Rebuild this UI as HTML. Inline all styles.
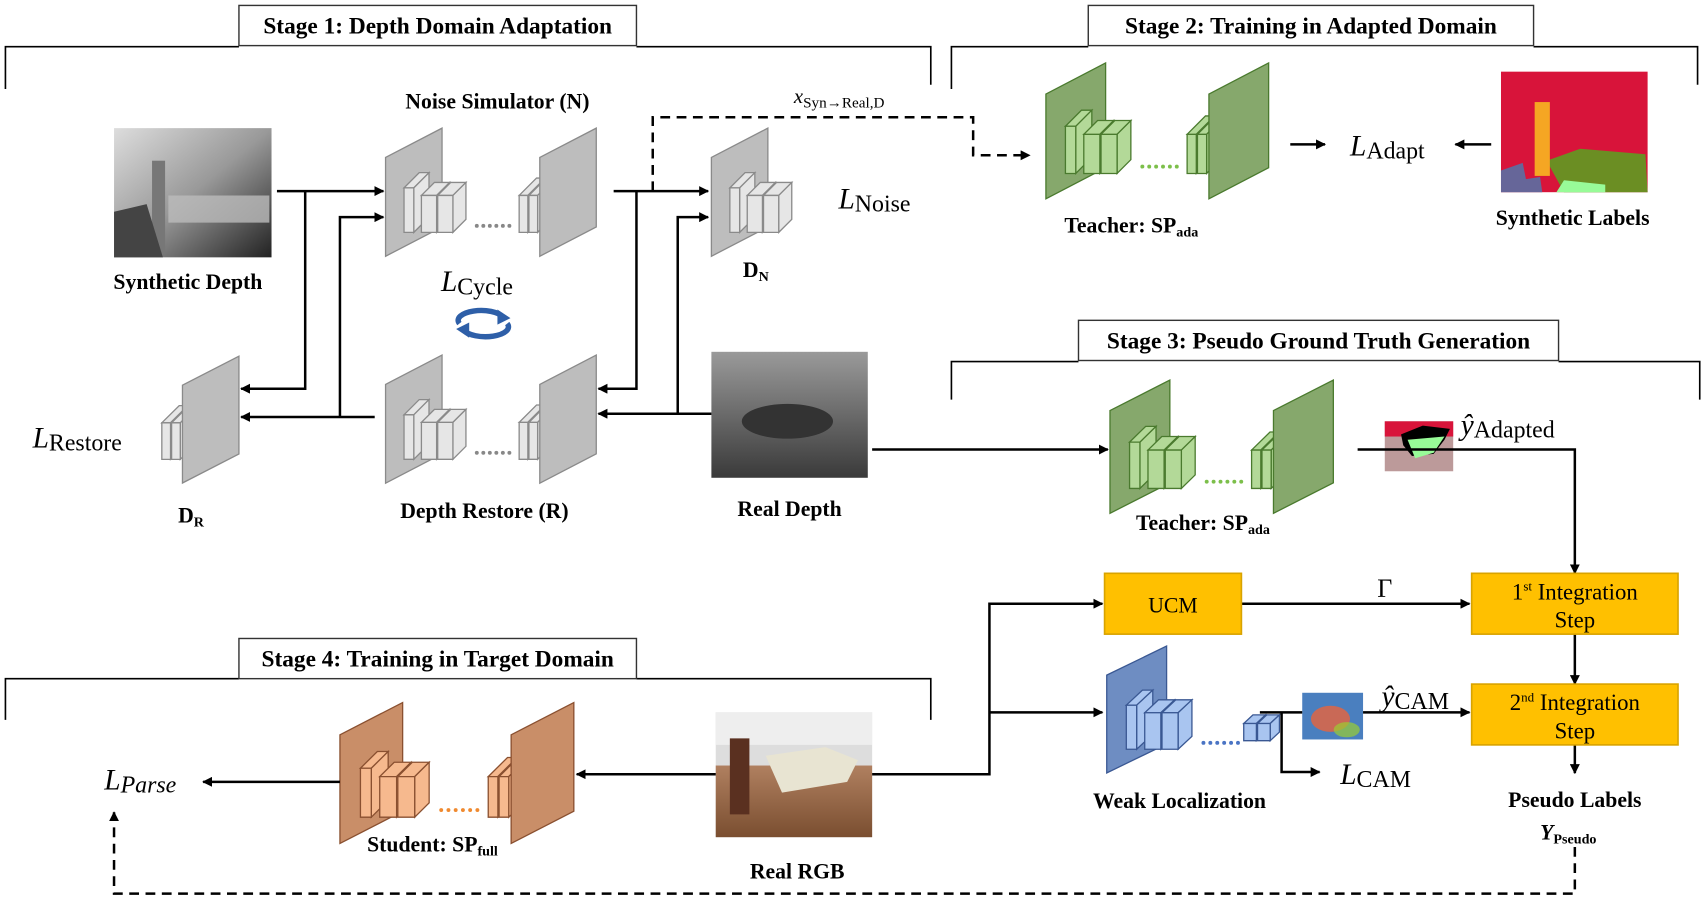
<!DOCTYPE html>
<html><head><meta charset="utf-8">
<style>
html,body{margin:0;padding:0;background:#fff;}
svg{display:block;}
text{font-family:"Liberation Serif",serif;}
.b{font-weight:bold;font-size:20px;}
.st{font-weight:bold;font-size:21.5px;}
.m{font-size:27px;}
</style></head>
<body>
<svg id="s" width="1703" height="898" viewBox="0 0 1568 827" preserveAspectRatio="none" xmlns="http://www.w3.org/2000/svg">
<defs>
<marker id="ah" viewBox="0 0 10 10" refX="9" refY="5" markerWidth="4" markerHeight="4" orient="auto"><path d="M0,0 L10,5 L0,10 z" fill="#000"/></marker>
<linearGradient id="sd" x1="0" y1="0" x2="1" y2="1"><stop offset="0" stop-color="#ddd"/><stop offset="0.5" stop-color="#999"/><stop offset="1" stop-color="#222"/></linearGradient>
<linearGradient id="rd" x1="0" y1="0" x2="0" y2="1"><stop offset="0" stop-color="#9a9a9a"/><stop offset="1" stop-color="#3a3a3a"/></linearGradient>
<linearGradient id="floor" x1="0" y1="0" x2="0" y2="1"><stop offset="0" stop-color="#b08060"/><stop offset="1" stop-color="#7a4e30"/></linearGradient>
</defs>
<g fill="none" stroke="#000" stroke-width="1.5">
<path d="M5,82 V43 H220 M586,43 H857 V78"/>
<path d="M876,82 V43 H1002 M1412,43 H1563 V78"/>
<path d="M876,368 V333 H993 M1435,333 H1565 V368"/>
<path d="M5,663 V625 H220 M586,625 H857 V663"/>
</g>
<g fill="#fff" stroke="#333" stroke-width="1.3">
<rect x="220" y="5" width="366" height="37"/>
<rect x="1002" y="5" width="410" height="37"/>
<rect x="993" y="295" width="442" height="37"/>
<rect x="220" y="588" width="366" height="37"/>
</g>
<text class="st" x="403" y="31" text-anchor="middle">Stage 1: Depth Domain Adaptation</text>
<text class="st" x="1207" y="31" text-anchor="middle">Stage 2: Training in Adapted Domain</text>
<text class="st" x="1214" y="321" text-anchor="middle">Stage 3: Pseudo Ground Truth Generation</text>
<text class="st" x="403" y="614" text-anchor="middle">Stage 4: Training in Target Domain</text>

<rect x="105" y="118" width="145" height="119" fill="url(#sd)"/>
<rect x="140" y="148" width="12" height="85" fill="#777"/>
<path d="M155,180 H248 V205 H155 z" fill="#bbb" opacity="0.8"/>
<path d="M105,195 L135,188 L150,237 H105z" fill="#444"/>
<rect x="655" y="324" width="144" height="116" fill="url(#rd)"/>
<ellipse cx="725" cy="388" rx="42" ry="16" fill="#333"/>
<rect x="659" y="656" width="144" height="115" fill="#ddd"/>
<rect x="659" y="656" width="144" height="30" fill="#eee"/>
<rect x="659" y="705" width="144" height="66" fill="url(#floor)"/>
<path d="M705,696 L760,688 L790,700 L780,720 L720,730z" fill="#e8e4d2"/>
<rect x="672" y="680" width="18" height="70" fill="#5a3020"/>
<rect x="1382" y="66" width="135" height="111" fill="#d8143a"/>
<path d="M1424,148 L1455,137 L1515,142 L1517,177 L1440,177z" fill="#6b8e23"/>
<rect x="1413" y="94" width="14" height="68" fill="#f5a623"/>
<path d="M1382,157 L1402,150 L1405,165 L1418,163 L1420,177 H1382z" fill="#666699"/>
<path d="M1440,166 L1478,170 L1478,177 H1433z" fill="#98fb98"/>
<rect x="1275" y="388" width="63" height="46" fill="#bc9a9a"/>
<rect x="1275" y="388" width="63" height="14" fill="#d8143a"/>
<path d="M1290,400 L1310,392 L1335,395 L1330,405 L1320,418 L1300,420 L1292,410z" fill="#000"/>
<path d="M1296,405 L1330,402 L1320,417 L1303,422z" fill="#98fb98"/>
<rect x="1199" y="638" width="56" height="43" fill="#4a7fbf"/>
<ellipse cx="1225" cy="662" rx="18" ry="12" fill="#e8643c" opacity="0.8"/>
<ellipse cx="1240" cy="672" rx="12" ry="7" fill="#9acd32" opacity="0.7"/>

<g id="nets"></g>

<g fill="none" stroke="#000" stroke-width="2.3">
<path d="M255,176 H353" marker-end="url(#ah)"/>
<path d="M281,176 V358 H222" marker-end="url(#ah)"/>
<path d="M345,384 H222" marker-end="url(#ah)"/>
<path d="M313,384 V200 H353" marker-end="url(#ah)"/>
<path d="M565,176 H652" marker-end="url(#ah)"/>
<path d="M586,176 V358 H551" marker-end="url(#ah)"/>
<path d="M655,381 H551" marker-end="url(#ah)"/>
<path d="M624,381 V200 H652" marker-end="url(#ah)"/>
<path d="M601,176 V108 H896 V143 H948" stroke-dasharray="9,6" marker-end="url(#ah)"/>
<path d="M1188,133 H1220" marker-end="url(#ah)"/>
<path d="M1373,133 H1340" marker-end="url(#ah)"/>
<path d="M803,414 H1020" marker-end="url(#ah)"/>
<path d="M1250,414 H1450 V528" marker-end="url(#ah)"/>
<path d="M1143,556 H1353" marker-end="url(#ah)"/>
<path d="M1450,584 V630" marker-end="url(#ah)"/>
<path d="M1450,686 V712" marker-end="url(#ah)"/>
<path d="M803,713 H911 V556 H1015" marker-end="url(#ah)"/>
<path d="M911,656 H1015" marker-end="url(#ah)"/>
<path d="M1160,656 H1199"/>
<path d="M1255,656 H1353" marker-end="url(#ah)"/>
<path d="M1180,656 V711 H1215" marker-end="url(#ah)"/>
<path d="M659,713 H531" marker-end="url(#ah)"/>
<path d="M313,720 H187" marker-end="url(#ah)"/>
<path d="M1450,780 V823 H105 V748" stroke-dasharray="9,6" marker-end="url(#ah)"/>
</g>

<g fill="#ffc000" stroke="#d9a300" stroke-width="1.5">
<rect x="1017" y="528" width="126" height="56"/>
<rect x="1355" y="528" width="190" height="56"/>
<rect x="1355" y="630" width="190" height="56"/>
</g>
<text x="1080" y="564" text-anchor="middle" font-size="20">UCM</text>
<text x="1450" y="552" text-anchor="middle" font-size="21">1<tspan font-size="12" dy="-8">st</tspan><tspan dy="8"> Integration</tspan></text>
<text x="1450" y="578" text-anchor="middle" font-size="21">Step</text>
<text x="1450" y="654" text-anchor="middle" font-size="21">2<tspan font-size="12" dy="-8">nd</tspan><tspan dy="8"> Integration</tspan></text>
<text x="1450" y="680" text-anchor="middle" font-size="21">Step</text>
<text x="1275" y="550" text-anchor="middle" font-size="24">Γ</text>

<g fill="none" stroke="#2e5fa8" stroke-width="5">
<path d="M423,298 A21,9 0 0 1 463,292"/>
<path d="M467,298 A21,9 0 0 1 427,304"/>
</g>
<path d="M458,285 L470,293 L458,299z M432,297 L420,303 L432,311z" fill="#2e5fa8"/>

<text class="b" x="458" y="100" text-anchor="middle">Noise Simulator (N)</text>
<text x="731" y="95" font-size="19"><tspan font-style="italic">x</tspan><tspan font-size="14" dy="4">Syn→Real,D</tspan></text>
<text class="m" x="772" y="192"><tspan font-style="italic">L</tspan><tspan font-size="22" dy="3">Noise</tspan></text>
<text class="b" x="684" y="255">D<tspan font-size="13" dy="4">N</tspan></text>
<text class="b" x="173" y="266" text-anchor="middle">Synthetic Depth</text>
<text class="m" x="406" y="268"><tspan font-style="italic">L</tspan><tspan font-size="22" dy="3">Cycle</tspan></text>
<text class="m" x="30" y="412"><tspan font-style="italic">L</tspan><tspan font-size="22" dy="3">Restore</tspan></text>
<text class="b" x="164" y="481">D<tspan font-size="13" dy="4">R</tspan></text>
<text class="b" x="446" y="477" text-anchor="middle">Depth Restore (R)</text>
<text class="b" x="727" y="475" text-anchor="middle">Real Depth</text>
<text class="b" x="980" y="214">Teacher: SP<tspan font-size="13" dy="4">ada</tspan></text>
<text class="m" x="1243" y="143"><tspan font-style="italic">L</tspan><tspan font-size="22" dy="3">Adapt</tspan></text>
<text class="b" x="1448" y="207" text-anchor="middle">Synthetic Labels</text>
<text class="b" x="1046" y="488">Teacher: SP<tspan font-size="13" dy="4">ada</tspan></text>
<text class="m" x="1345" y="400"><tspan font-style="italic">ŷ</tspan><tspan font-size="22" dy="3">Adapted</tspan></text>
<text class="m" x="1272" y="650"><tspan font-style="italic">ŷ</tspan><tspan font-size="22" dy="3">CAM</tspan></text>
<text class="m" x="1234" y="722"><tspan font-style="italic">L</tspan><tspan font-size="22" dy="3">CAM</tspan></text>
<text class="b" x="1086" y="744" text-anchor="middle">Weak Localization</text>
<text class="b" x="1450" y="743" text-anchor="middle">Pseudo Labels</text>
<text class="b" x="1418" y="773" font-style="italic">Y<tspan font-size="13" font-style="normal" dy="4">Pseudo</tspan></text>
<text class="m" x="96" y="727"><tspan font-style="italic">L</tspan><tspan font-size="22" font-style="italic" dy="3">Parse</tspan></text>
<text class="b" x="338" y="784">Student: SP<tspan font-size="13" dy="4">full</tspan></text>
<text class="b" x="734" y="809" text-anchor="middle">Real RGB</text>
</svg>
<script>
(function(){
var g=document.getElementById('nets'),NS='http://www.w3.org/2000/svg';
function poly(pts,f,s){var p=document.createElementNS(NS,'polygon');p.setAttribute('points',pts.map(function(a){return a.join(',')}).join(' '));p.setAttribute('fill',f);p.setAttribute('stroke',s);p.setAttribute('stroke-width','1.2');g.appendChild(p);}
function box(T,x,y,w,h,d,c){var A=T;
 poly([A(x,y),A(x+w,y),A(x+w+d,y-d),A(x+d,y-d)],c.bx,c.bs);
 poly([A(x+w,y),A(x+w+d,y-d),A(x+w+d,y+h-d),A(x+w,y+h)],c.bx,c.bs);
 poly([A(x,y),A(x+w,y),A(x+w,y+h),A(x,y+h)],c.bx,c.bs);}
function net(x0,y0,sx,sy,c,parts){
 var T=function(x,y){return [x0+x*sx,y0+y*sy];};
 if(parts.a){poly([T(0,27),T(52,0),T(52,91),T(0,118)],c.p,c.ps);
  box(T,17,55,9,41,14,c);box(T,33,62,14,34,12,c);box(T,48,62,14,34,12,c);}
 if(parts.dots){for(var i=0;i<6;i++){var q=T(84+i*6,90);var r=document.createElementNS(NS,'circle');r.setAttribute('cx',q[0]);r.setAttribute('cy',q[1]);r.setAttribute('r',1.8);r.setAttribute('fill',c.d);g.appendChild(r);}}
 if(parts.b){box(T,123,62,8,34,16,c);box(T,132,62,8,34,16,c);
  poly([T(142,27),T(194,0),T(194,91),T(142,118)],c.p,c.ps);}
 if(parts.cubes){box(T,119,72,11,16,8,c);box(T,131,72,11,16,8,c);}
}
var gray={p:'#bdbdbd',ps:'#8a8a8a',bx:'#e6e6e6',bs:'#8a8a8a',d:'#888'};
var green={p:'#86a86c',ps:'#4a7a2e',bx:'#b3d998',bs:'#4a7a2e',d:'#7cbf4a'};
var blue={p:'#6e8dc2',ps:'#3a5893',bx:'#a9c5f0',bs:'#3a5893',d:'#4a74c4'};
var orange={p:'#c98e68',ps:'#8a5030',bx:'#f6b98e',bs:'#8a5030',d:'#f08a30'};
net(355,118,1,1,gray,{a:1,dots:1,b:1});
net(355,327,1,1,gray,{a:1,dots:1,b:1});
net(655,118,1,1,gray,{a:1});
net(26,328,1,0.99,gray,{b:1});
net(963,58,1.057,1.06,green,{a:1,dots:1,b:1});
net(1022,350,1.06,1.04,green,{a:1,dots:1,b:1});
net(1019,595,1.06,0.99,blue,{a:1,dots:1,cubes:1});
net(313,647,1.11,1.1,orange,{a:1,dots:1,b:1});
})();
</script>
</body></html>
